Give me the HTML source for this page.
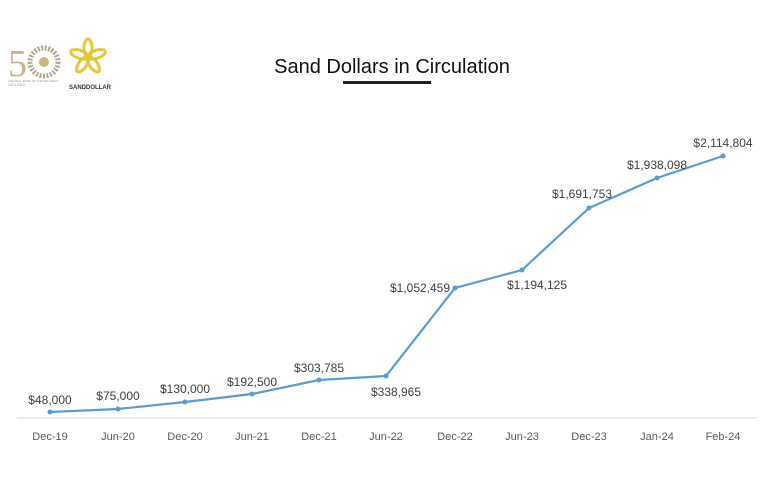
<!DOCTYPE html><html><head><style>body{margin:0;background:#fff;width:768px;height:497px;overflow:hidden;font-family:"Liberation Sans",sans-serif}</style></head><body>
<svg width="768" height="497" xmlns="http://www.w3.org/2000/svg">
<g transform="translate(8,40)">
<text x="0" y="36" font-size="38" fill="#c8b48a" font-family="Liberation Serif">5</text>
<circle cx="36" cy="22" r="14" fill="none" stroke="#b0a890" stroke-width="5" stroke-dasharray="2 1.5"/>
<circle cx="36" cy="22" r="5" fill="#c9b880"/>
<text x="0" y="42" font-size="3" fill="#999">CENTRAL BANK OF THE BAHAMAS</text>
<text x="0" y="46" font-size="3.5" fill="#999">1974-2024</text>
<g fill="none" stroke="#e8c63a" stroke-width="3">
<ellipse cx="80" cy="8" rx="4" ry="9"/><ellipse cx="80" cy="8" rx="4" ry="9" transform="rotate(72 80 17)"/><ellipse cx="80" cy="8" rx="4" ry="9" transform="rotate(144 80 17)"/><ellipse cx="80" cy="8" rx="4" ry="9" transform="rotate(216 80 17)"/><ellipse cx="80" cy="8" rx="4" ry="9" transform="rotate(288 80 17)"/>
</g>
<text x="61" y="49" font-size="6" font-weight="bold" fill="#333">SANDDOLLAR</text>
</g>
<text x="392" y="73" font-size="20" text-anchor="middle" fill="#111">Sand Dollars in Circulation</text>
<rect x="343" y="81" width="88" height="3" fill="#222"/>
<line x1="17" y1="418" x2="757" y2="418" stroke="#d9d9d9"/>
<polyline fill="none" stroke="#5b9bd5" stroke-width="2.2" points="50,412 118,409 185,402 252,394 319,380 386,376 455,288 522,270 589,208 657,178 723,156"/>
<g fill="#5b9bd5"><circle cx="50" cy="412" r="2.5"/><circle cx="118" cy="409" r="2.5"/><circle cx="185" cy="402" r="2.5"/><circle cx="252" cy="394" r="2.5"/><circle cx="319" cy="380" r="2.5"/><circle cx="386" cy="376" r="2.5"/><circle cx="455" cy="288" r="2.5"/><circle cx="522" cy="270" r="2.5"/><circle cx="589" cy="208" r="2.5"/><circle cx="657" cy="178" r="2.5"/><circle cx="723" cy="156" r="2.5"/></g>
<g font-size="12" fill="#404040" text-anchor="middle">
<text x="50" y="404">$48,000</text><text x="118" y="400">$75,000</text><text x="185" y="393">$130,000</text><text x="252" y="386">$192,500</text><text x="319" y="372">$303,785</text><text x="396" y="396">$338,965</text><text x="420" y="292">$1,052,459</text><text x="537" y="289">$1,194,125</text><text x="582" y="198">$1,691,753</text><text x="657" y="169">$1,938,098</text><text x="723" y="147">$2,114,804</text>
</g>
<g font-size="11" fill="#595959" text-anchor="middle">
<text x="50" y="440">Dec-19</text><text x="118" y="440">Jun-20</text><text x="185" y="440">Dec-20</text><text x="252" y="440">Jun-21</text><text x="319" y="440">Dec-21</text><text x="386" y="440">Jun-22</text><text x="455" y="440">Dec-22</text><text x="522" y="440">Jun-23</text><text x="589" y="440">Dec-23</text><text x="657" y="440">Jan-24</text><text x="723" y="440">Feb-24</text>
</g>
</svg></body></html>
